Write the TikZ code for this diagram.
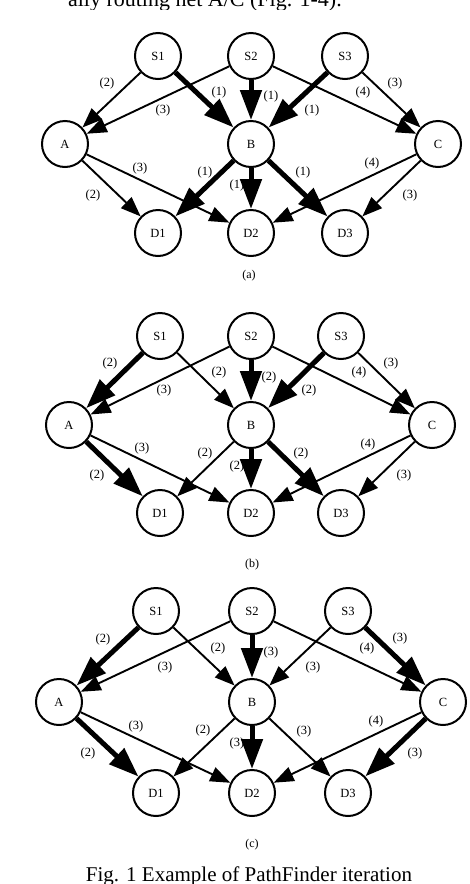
\documentclass[tikz,border=0pt]{standalone}
\usepackage{fontspec}
\setmainfont{Liberation Serif}
\usetikzlibrary{arrows.meta}
\tikzset{
  vtx/.style={circle,draw,line width=2pt,minimum size=46pt,inner sep=0pt,fill=white,font=\fontsize{12.5}{14}\selectfont},
  ln/.style={line width=1.9pt,-{Triangle[length=20pt,width=15pt]}},
  tk/.style={line width=5pt,-{Triangle[length=30pt,width=21pt]}},
  lb/.style={inner sep=0pt,font=\fontsize{12.5}{14}\selectfont},
  subcap/.style={inner sep=0pt,font=\fontsize{12}{14}\selectfont},
}
\begin{document}
\begin{tikzpicture}[x=1pt,y=-1pt]
\useasboundingbox (0,0) rectangle (470,884);
\fill[white] (0,0) rectangle (470,884);
% clipped line of text above the figure
\begin{scope}
\clip (0,0) rectangle (470,9);
\node[anchor=base east,inner sep=0pt,font=\fontsize{22}{26}\selectfont] (toptext) at (342,6) {ally routing net A/C (Fig. 1-4).};
\end{scope}

% ---------------- panel (a)
\begin{scope}[name prefix=a-]
\node[vtx] (S1) at (158,56) {S1};
\node[vtx] (S2) at (251,56) {S2};
\node[vtx] (S3) at (345,56) {S3};
\node[vtx] (A) at (65,144) {A};
\node[vtx] (B) at (251,144) {B};
\node[vtx] (C) at (438,144) {C};
\node[vtx] (D1) at (158,233) {D1};
\node[vtx] (D2) at (251,233) {D2};
\node[vtx] (D3) at (345,233) {D3};
\node[lb] (l1) at (107,83) {(2)};
\node[lb] (l2) at (219,92) {(1)};
\node[lb] (l3) at (163,110) {(3)};
\node[lb] (l4) at (271,96) {(1)};
\node[lb] (l5) at (312,110) {(1)};
\node[lb] (l6) at (363,92) {(4)};
\node[lb] (l7) at (395,83) {(3)};
\node[lb] (l8) at (140,168) {(3)};
\node[lb] (l9) at (93,195) {(2)};
\node[lb] (l10) at (205,172) {(1)};
\node[lb] (l11) at (237,185) {(1)};
\node[lb] (l12) at (303,172) {(1)};
\node[lb] (l13) at (372,163) {(4)};
\node[lb] (l14) at (410,195) {(3)};
\draw[ln] (S1) -- (A);
\draw[ln] (S2) -- (A);
\draw[ln] (S2) -- (C);
\draw[ln] (S3) -- (C);
\draw[ln] (A) -- (D1);
\draw[ln] (A) -- (D2);
\draw[ln] (C) -- (D2);
\draw[ln] (C) -- (D3);
\draw[tk] (S1) -- (B);
\draw[tk] (S2) -- (B);
\draw[tk] (S3) -- (B);
\draw[tk] (B) -- (D1);
\draw[tk] (B) -- (D2);
\draw[tk] (B) -- (D3);
\node[subcap] (sc) at (249,276) {(a)};
\end{scope}

% ---------------- panel (b)
\begin{scope}[name prefix=b-]
\node[vtx] (S1) at (160,336) {S1};
\node[vtx] (S2) at (251,336) {S2};
\node[vtx] (S3) at (341,336) {S3};
\node[vtx] (A) at (69,425) {A};
\node[vtx] (B) at (251,425) {B};
\node[vtx] (C) at (432,425) {C};
\node[vtx] (D1) at (160,513) {D1};
\node[vtx] (D2) at (251,513) {D2};
\node[vtx] (D3) at (341,513) {D3};
\node[lb] (l1) at (110,363) {(2)};
\node[lb] (l2) at (219,372) {(2)};
\node[lb] (l3) at (164,390) {(3)};
\node[lb] (l4) at (269,377) {(2)};
\node[lb] (l5) at (309,390) {(2)};
\node[lb] (l6) at (359,372) {(4)};
\node[lb] (l7) at (391,363) {(3)};
\node[lb] (l8) at (142,448) {(3)};
\node[lb] (l9) at (97,475) {(2)};
\node[lb] (l10) at (205,453) {(2)};
\node[lb] (l11) at (237,466) {(2)};
\node[lb] (l12) at (301,453) {(2)};
\node[lb] (l13) at (368,444) {(4)};
\node[lb] (l14) at (404,475) {(3)};
\draw[ln] (S1) -- (B);
\draw[ln] (S2) -- (A);
\draw[ln] (S2) -- (C);
\draw[ln] (S3) -- (C);
\draw[ln] (A) -- (D2);
\draw[ln] (B) -- (D1);
\draw[ln] (C) -- (D2);
\draw[ln] (C) -- (D3);
\draw[tk] (S1) -- (A);
\draw[tk] (S2) -- (B);
\draw[tk] (S3) -- (B);
\draw[tk] (A) -- (D1);
\draw[tk] (B) -- (D2);
\draw[tk] (B) -- (D3);
\node[subcap] (sc) at (252,565) {(b)};
\end{scope}

% ---------------- panel (c)
\begin{scope}[name prefix=c-]
\node[vtx] (S1) at (156,611) {S1};
\node[vtx] (S2) at (252,611) {S2};
\node[vtx] (S3) at (348,611) {S3};
\node[vtx] (A) at (59,702) {A};
\node[vtx] (B) at (252,702) {B};
\node[vtx] (C) at (443,702) {C};
\node[vtx] (D1) at (156,793) {D1};
\node[vtx] (D2) at (252,793) {D2};
\node[vtx] (D3) at (348,793) {D3};
\node[lb] (l1) at (103,639) {(2)};
\node[lb] (l2) at (218,648) {(2)};
\node[lb] (l3) at (165,667) {(3)};
\node[lb] (l4) at (271,652) {(3)};
\node[lb] (l5) at (313,667) {(3)};
\node[lb] (l6) at (367,648) {(4)};
\node[lb] (l7) at (400,638) {(3)};
\node[lb] (l8) at (136,726) {(3)};
\node[lb] (l9) at (88,753) {(2)};
\node[lb] (l10) at (203,730) {(2)};
\node[lb] (l11) at (237,743) {(3)};
\node[lb] (l12) at (304,731) {(3)};
\node[lb] (l13) at (376,721) {(4)};
\node[lb] (l14) at (415,753) {(3)};
\draw[ln] (S1) -- (B);
\draw[ln] (S2) -- (A);
\draw[ln] (S2) -- (C);
\draw[ln] (S3) -- (B);
\draw[ln] (A) -- (D2);
\draw[ln] (B) -- (D1);
\draw[ln] (B) -- (D3);
\draw[ln] (C) -- (D2);
\draw[tk] (S1) -- (A);
\draw[tk] (S2) -- (B);
\draw[tk] (S3) -- (C);
\draw[tk] (A) -- (D1);
\draw[tk] (B) -- (D2);
\draw[tk] (C) -- (D3);
\node[subcap] (sc) at (252,845) {(c)};
\end{scope}

\node[anchor=base,inner sep=0pt,font=\fontsize{21}{25}\selectfont] (figcap) at (249,881) {Fig. 1 Example of PathFinder iteration};
\end{tikzpicture}
\end{document}
